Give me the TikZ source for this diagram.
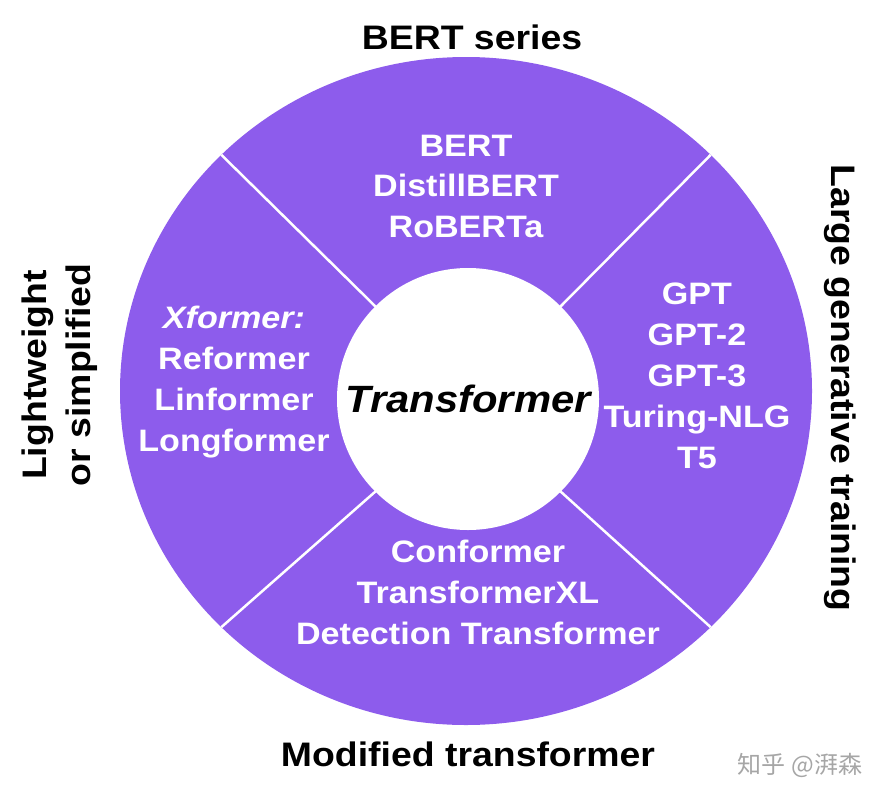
\documentclass[tikz,border=0pt]{standalone}
\usepackage{fontspec}
\usetikzlibrary{calc}
\setmainfont{Liberation Sans}
\newfontfamily\wide[FakeStretch=1.1]{Liberation Sans}
\newfontfamily\cjk{Noto Sans CJK SC}
\definecolor{ringpurple}{RGB}{141,92,236}
\begin{document}
\begin{tikzpicture}[x=1pt,y=-1pt,
  lab/.style={font=\wide\fontsize{31}{41}\selectfont\bfseries, text=white, align=center},
  cat/.style={font=\wide\fontsize{34}{44}\selectfont\bfseries, text=black, align=center}]
\useasboundingbox (0,0) rectangle (882,800);
\fill[ringpurple] (466,391) ellipse [x radius=346, y radius=334];
\foreach \a in {45,135,225,315}{
  \draw[white, line width=2.5pt] ($(468,399)+(\a:130 and -130)$) -- ($(466,391)+(\a:346 and -334)$);
}
\fill[white] (468,399) circle (131);
\node[font=\wide\fontsize{38}{40}\selectfont\bfseries\itshape] (t) at (468,399) {Transformer};
\node[cat] (c1) at (472,37) {BERT series};
\node[cat] (c2) at (468,754) {Modified transformer};
\node[cat, rotate=90] (c3) at (60,375) {Lightweight\\or simplified};
\node[cat, rotate=-90] (c4) at (840,388) {Large generative training};
\node[lab, font=\wide\fontsize{31}{40.5}\selectfont\bfseries] (b) at (466,186) {BERT\\DistillBERT\\RoBERTa};
\node[lab] (l) at (234,382) {\textit{Xformer:}\\Reformer\\Linformer\\Longformer};
\node[lab] (r) at (697,376) {GPT\\GPT-2\\GPT-3\\Turing-NLG\\T5};
\node[lab] (m) at (478,592) {Conformer\\TransformerXL\\Detection Transformer};
\node[font=\cjk\fontsize{24}{28}\selectfont, text=gray!70] (w) at (800,765) {知乎 @湃森};
\end{tikzpicture}
\end{document}
